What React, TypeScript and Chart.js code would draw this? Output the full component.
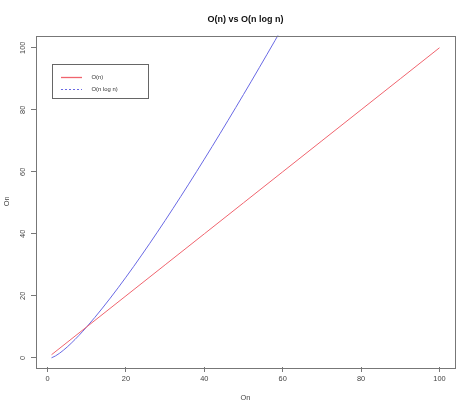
import React, { useEffect, useRef } from "react";
import { Chart, registerables } from "chart.js";

Chart.register(...registerables);

const TITLE = "O(n) vs O(n log n)";
const X_TITLE = "On";
const Y_TITLE = "On";
const SERIES_NAMES = ["O(n)", "O(n log n)"];

// O(n): red line
const ON_X = [1, 10, 20, 30, 40, 50, 60, 70, 80, 90, 100];
const ON_Y = [1, 10, 20, 30, 40, 50, 60, 70, 80, 90, 100];

// O(n log n): blue line
const ONLOG_X = [1, 2, 3, 4, 5, 6, 7, 8, 9, 10, 12, 14, 16, 18, 20, 22, 24, 26, 28, 30, 32, 34, 36, 38, 40, 42, 44, 46, 48, 50, 52, 54, 56, 58, 60];
const ONLOG_Y = [0, 0.6, 1.43, 2.41, 3.49, 4.67, 5.92, 7.22, 8.59, 10, 12.95, 16.05, 19.27, 22.59, 26.02, 29.53, 33.13, 36.79, 40.52, 44.31, 48.17, 52.07, 56.02, 60.03, 64.08, 68.17, 72.31, 76.49, 80.7, 84.95, 89.23, 93.55, 97.9, 102.28, 106.69];

const X_TICKS = [0, 20, 40, 60, 80, 100];
const Y_TICKS = [0, 20, 40, 60, 80, 100];

const FONT = "'Liberation Sans', Arial, sans-serif";
const RED = "rgb(240,100,110)";
const BLUE = "rgb(105,105,228)";

export default function App() {
  const ref = useRef<HTMLCanvasElement>(null);

  useEffect(() => {
    const canvas = ref.current;
    if (!canvas) return;

    const decor = {
      id: "decor",
      afterDraw(chart: any) {
        const ctx = chart.ctx;
        const a = chart.chartArea;
        const ys = chart.scales.y;
        ctx.save();
        // box
        ctx.strokeStyle = "#777";
        ctx.lineWidth = 1;
        ctx.strokeRect(Math.round(a.left) + 0.5, Math.round(a.top) + 0.5, Math.round(a.right - a.left), Math.round(a.bottom - a.top));
        // title
        ctx.fillStyle = "#111";
        ctx.font = `bold 9px ${FONT}`;
        ctx.textAlign = "center";
        ctx.textBaseline = "middle";
        ctx.fillText(TITLE, (a.left + a.right) / 2, 19.5);
        // x title
        ctx.fillStyle = "#444";
        ctx.font = `7.4px ${FONT}`;
        ctx.fillText(X_TITLE, (a.left + a.right) / 2, 398);
        // y title
        ctx.save();
        ctx.translate(6.5, (a.top + a.bottom) / 2);
        ctx.rotate(-Math.PI / 2);
        ctx.fillText(Y_TITLE, 0, 0);
        ctx.restore();
        // y tick labels rotated
        for (const v of Y_TICKS) {
          const py = ys.getPixelForValue(v);
          ctx.save();
          ctx.translate(23, py);
          ctx.rotate(-Math.PI / 2);
          ctx.fillText(String(v), 0, 0);
          ctx.restore();
        }
        // legend
        ctx.lineWidth = 1;
        ctx.strokeStyle = "#666";
        ctx.strokeRect(52.5, 64.5, 96, 34);
        ctx.lineWidth = 1.3;
        ctx.strokeStyle = RED;
        ctx.beginPath();
        ctx.moveTo(61, 77.5);
        ctx.lineTo(82, 77.5);
        ctx.stroke();
        ctx.lineWidth = 1;
        ctx.strokeStyle = BLUE;
        ctx.setLineDash([2, 2]);
        ctx.beginPath();
        ctx.moveTo(61, 89.5);
        ctx.lineTo(82, 89.5);
        ctx.stroke();
        ctx.setLineDash([]);
        ctx.fillStyle = "#333";
        ctx.font = `5.9px ${FONT}`;
        ctx.textAlign = "left";
        ctx.fillText(SERIES_NAMES[0], 91.5, 77.5);
        ctx.fillText(SERIES_NAMES[1], 91.5, 89.5);
        ctx.restore();
      },
    };

    const chart = new Chart(canvas, {
      type: "line",
      data: {
        datasets: [
          {
            label: SERIES_NAMES[0],
            data: ON_X.map((x, i) => ({ x, y: ON_Y[i] })),
            borderColor: RED,
            borderWidth: 1,
            pointRadius: 0,
            tension: 0,
            fill: false,
          },
          {
            label: SERIES_NAMES[1],
            data: ONLOG_X.map((x, i) => ({ x, y: ONLOG_Y[i] })),
            borderColor: BLUE,
            borderWidth: 1,
            pointRadius: 0,
            tension: 0,
            fill: false,
          },
        ],
      },
      plugins: [decor],
      options: {
        responsive: false,
        animation: false,
        devicePixelRatio: 1,
        layout: { padding: { left: 0, right: 19, top: 35.5, bottom: 0 } },
        plugins: { legend: { display: false }, title: { display: false }, tooltip: { enabled: false } },
        scales: {
          x: {
            type: "linear",
            min: -2.96,
            max: 103.96,
            afterBuildTicks: (s: any) => {
              s.ticks = X_TICKS.map((v) => ({ value: v }));
            },
            afterFit: (s: any) => {
              s.height = 45;
            },
            border: { display: false },
            grid: { drawOnChartArea: false, tickLength: 5, color: "#777", tickColor: "#777" },
            ticks: { color: "#444", font: { family: FONT, size: 7.4 }, padding: 3, maxRotation: 0, autoSkip: false },
          },
          y: {
            type: "linear",
            min: -2.96,
            max: 103.96,
            afterBuildTicks: (s: any) => {
              s.ticks = Y_TICKS.map((v) => ({ value: v }));
            },
            afterFit: (s: any) => {
              s.width = 36;
            },
            border: { display: false },
            grid: { drawOnChartArea: false, tickLength: 5, color: "#777", tickColor: "#777" },
            ticks: { display: false },
          },
        },
      },
    } as any);

    return () => chart.destroy();
  }, []);

  return (
    <div style={{ position: "fixed", left: 0, top: 0, width: 474, height: 412, background: "#fff" }}>
      <canvas ref={ref} width={474} height={412} style={{ width: 474, height: 412, display: "block" }} />
    </div>
  );
}
